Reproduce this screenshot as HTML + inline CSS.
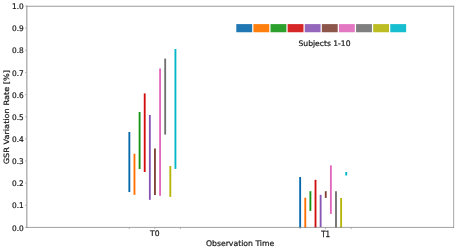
<!DOCTYPE html>
<html><head><meta charset="utf-8"><title>GSR Variation Rate</title>
<style>html,body{margin:0;padding:0;background:#fff}svg{display:block}text{font-family:"DejaVu Sans","Liberation Sans",sans-serif;fill:#1a1a1a}</style></head><body>
<svg width="456" height="250" viewBox="0 0 456 250">
<rect width="456" height="250" fill="#fff"/>
<line x1="129.35" y1="132.00" x2="129.35" y2="192.05" stroke="#0467ab" stroke-width="1.85"/>
<line x1="134.47" y1="153.70" x2="134.47" y2="194.80" stroke="#ff7000" stroke-width="1.85"/>
<line x1="139.59" y1="112.00" x2="139.59" y2="169.00" stroke="#139513" stroke-width="1.85"/>
<line x1="144.71" y1="93.40" x2="144.71" y2="172.00" stroke="#d10d0e" stroke-width="1.85"/>
<line x1="149.83" y1="115.00" x2="149.83" y2="199.85" stroke="#8755b5" stroke-width="1.85"/>
<line x1="154.95" y1="148.40" x2="154.95" y2="195.00" stroke="#7e4235" stroke-width="1.85"/>
<line x1="160.07" y1="68.60" x2="160.07" y2="195.70" stroke="#e067bb" stroke-width="1.85"/>
<line x1="165.19" y1="58.60" x2="165.19" y2="134.60" stroke="#707070" stroke-width="1.85"/>
<line x1="170.31" y1="166.00" x2="170.31" y2="196.90" stroke="#b4b507" stroke-width="1.85"/>
<line x1="175.43" y1="49.00" x2="175.43" y2="168.90" stroke="#00b6c9" stroke-width="1.85"/>
<line x1="300.15" y1="177.00" x2="300.15" y2="227.60" stroke="#0467ab" stroke-width="1.85"/>
<line x1="305.27" y1="197.70" x2="305.27" y2="227.60" stroke="#ff7000" stroke-width="1.85"/>
<line x1="310.39" y1="191.20" x2="310.39" y2="210.90" stroke="#139513" stroke-width="1.85"/>
<line x1="315.51" y1="179.80" x2="315.51" y2="227.60" stroke="#d10d0e" stroke-width="1.85"/>
<line x1="320.63" y1="194.80" x2="320.63" y2="227.00" stroke="#8755b5" stroke-width="1.85"/>
<line x1="325.75" y1="191.20" x2="325.75" y2="197.90" stroke="#7e4235" stroke-width="1.85"/>
<line x1="330.87" y1="165.40" x2="330.87" y2="213.90" stroke="#e067bb" stroke-width="1.85"/>
<line x1="335.99" y1="191.20" x2="335.99" y2="227.60" stroke="#707070" stroke-width="1.85"/>
<line x1="341.11" y1="198.00" x2="341.11" y2="227.60" stroke="#b4b507" stroke-width="1.85"/>
<line x1="346.23" y1="172.00" x2="346.23" y2="175.50" stroke="#00b6c9" stroke-width="1.85"/>
<line x1="26.799999999999997" y1="5.7" x2="26.799999999999997" y2="227.9" stroke="#b0b0b0" stroke-width="1.4"/>
<line x1="453.6" y1="5.7" x2="453.6" y2="227.9" stroke="#b0b0b0" stroke-width="1.1"/>
<line x1="26.15" y1="6.2" x2="454.1" y2="6.2" stroke="#9a9a9a" stroke-width="1.1"/>
<line x1="26.15" y1="227.4" x2="454.0" y2="227.4" stroke="#6a6a6a" stroke-opacity="0.64" stroke-width="1"/>
<line x1="25.049999999999997" y1="227.40" x2="26.65" y2="227.40" stroke="#9a9a9a" stroke-width="0.7"/>
<text transform="translate(23.7,230.6) scale(1,1.05)" font-size="7.4" text-anchor="end" stroke="#1a1a1a" stroke-width="0.22">0.0</text>
<line x1="25.049999999999997" y1="205.26" x2="26.65" y2="205.26" stroke="#9a9a9a" stroke-width="0.7"/>
<text transform="translate(23.7,208.46) scale(1,1.05)" font-size="7.4" text-anchor="end" stroke="#1a1a1a" stroke-width="0.22">0.1</text>
<line x1="25.049999999999997" y1="183.12" x2="26.65" y2="183.12" stroke="#9a9a9a" stroke-width="0.7"/>
<text transform="translate(23.7,186.32) scale(1,1.05)" font-size="7.4" text-anchor="end" stroke="#1a1a1a" stroke-width="0.22">0.2</text>
<line x1="25.049999999999997" y1="160.98" x2="26.65" y2="160.98" stroke="#9a9a9a" stroke-width="0.7"/>
<text transform="translate(23.7,164.18) scale(1,1.05)" font-size="7.4" text-anchor="end" stroke="#1a1a1a" stroke-width="0.22">0.3</text>
<line x1="25.049999999999997" y1="138.84" x2="26.65" y2="138.84" stroke="#9a9a9a" stroke-width="0.7"/>
<text transform="translate(23.7,142.04) scale(1,1.05)" font-size="7.4" text-anchor="end" stroke="#1a1a1a" stroke-width="0.22">0.4</text>
<line x1="25.049999999999997" y1="116.70" x2="26.65" y2="116.70" stroke="#9a9a9a" stroke-width="0.7"/>
<text transform="translate(23.7,119.9) scale(1,1.05)" font-size="7.4" text-anchor="end" stroke="#1a1a1a" stroke-width="0.22">0.5</text>
<line x1="25.049999999999997" y1="94.56" x2="26.65" y2="94.56" stroke="#9a9a9a" stroke-width="0.7"/>
<text transform="translate(23.7,97.76) scale(1,1.05)" font-size="7.4" text-anchor="end" stroke="#1a1a1a" stroke-width="0.22">0.6</text>
<line x1="25.049999999999997" y1="72.42" x2="26.65" y2="72.42" stroke="#9a9a9a" stroke-width="0.7"/>
<text transform="translate(23.7,75.62) scale(1,1.05)" font-size="7.4" text-anchor="end" stroke="#1a1a1a" stroke-width="0.22">0.7</text>
<line x1="25.049999999999997" y1="50.28" x2="26.65" y2="50.28" stroke="#9a9a9a" stroke-width="0.7"/>
<text transform="translate(23.7,53.48) scale(1,1.05)" font-size="7.4" text-anchor="end" stroke="#1a1a1a" stroke-width="0.22">0.8</text>
<line x1="25.049999999999997" y1="28.14" x2="26.65" y2="28.14" stroke="#9a9a9a" stroke-width="0.7"/>
<text transform="translate(23.7,31.34) scale(1,1.05)" font-size="7.4" text-anchor="end" stroke="#1a1a1a" stroke-width="0.22">0.9</text>
<line x1="25.049999999999997" y1="6.00" x2="26.65" y2="6.00" stroke="#9a9a9a" stroke-width="0.7"/>
<text transform="translate(23.7,9.2) scale(1,1.05)" font-size="7.4" text-anchor="end" stroke="#1a1a1a" stroke-width="0.22">1.0</text>
<line x1="129.20" y1="227.4" x2="129.20" y2="229.1" stroke="#9a9a9a" stroke-width="0.7"/>
<line x1="154.80" y1="227.4" x2="154.80" y2="229.1" stroke="#9a9a9a" stroke-width="0.7"/>
<line x1="180.40" y1="227.4" x2="180.40" y2="229.1" stroke="#9a9a9a" stroke-width="0.7"/>
<line x1="300.00" y1="227.4" x2="300.00" y2="229.1" stroke="#9a9a9a" stroke-width="0.7"/>
<line x1="325.60" y1="227.4" x2="325.60" y2="229.1" stroke="#9a9a9a" stroke-width="0.7"/>
<line x1="351.20" y1="227.4" x2="351.20" y2="229.1" stroke="#9a9a9a" stroke-width="0.7"/>
<text transform="translate(154.8,236.0) scale(1,1.0)" font-size="7.6" text-anchor="middle" stroke="#1a1a1a" stroke-width="0.22">T0</text>
<text transform="translate(325.70000000000005,236.8) scale(1,1.2)" font-size="7.2" text-anchor="middle" stroke="#1a1a1a" stroke-width="0.22">T1</text>
<text transform="translate(240.1,246.0) scale(1,1.0)" font-size="7.72" text-anchor="middle" stroke="#1a1a1a" stroke-width="0.22">Observation Time</text>
<text transform="translate(8.6,117.2) rotate(-90) scale(1.122,1)" font-size="7.3" text-anchor="middle" stroke="#1a1a1a" stroke-width="0.22">GSR Variation Rate [%]</text>
<rect x="236.30" y="24.1" width="15.85" height="8.15" fill="#1f77b4"/>
<rect x="253.41" y="24.1" width="15.85" height="8.15" fill="#ff7f0e"/>
<rect x="270.52" y="24.1" width="15.85" height="8.15" fill="#2ca02c"/>
<rect x="287.63" y="24.1" width="15.85" height="8.15" fill="#d62728"/>
<rect x="304.74" y="24.1" width="15.85" height="8.15" fill="#9467bd"/>
<rect x="321.85" y="24.1" width="15.85" height="8.15" fill="#8c564b"/>
<rect x="338.96" y="24.1" width="15.85" height="8.15" fill="#e377c2"/>
<rect x="356.07" y="24.1" width="15.85" height="8.15" fill="#7f7f7f"/>
<rect x="373.18" y="24.1" width="15.85" height="8.15" fill="#bcbd22"/>
<rect x="390.29" y="24.1" width="15.85" height="8.15" fill="#17becf"/>
<text transform="translate(324.5,46.0) scale(1,1.0)" font-size="7.6" text-anchor="middle" stroke="#1a1a1a" stroke-width="0.22">Subjects 1-10</text>
</svg></body></html>
